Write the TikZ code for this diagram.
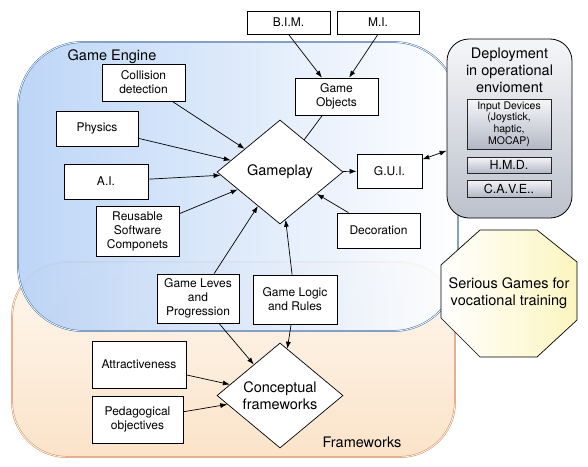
\documentclass[tikz,border=0pt]{standalone}
\usepackage{fontspec}
\setmainfont{TeX Gyre Heros}
\usetikzlibrary{shapes.geometric,arrows.meta}
\definecolor{engblue}{HTML}{B6D1F6}
\definecolor{engline}{HTML}{3E6FA6}
\definecolor{frmpale}{HTML}{FEF8F0}
\definecolor{frmorange}{HTML}{FBE3C9}
\definecolor{frmline}{HTML}{D48B5C}
\definecolor{deptop}{HTML}{F5F6F8}
\definecolor{depbottom}{HTML}{BCC1CC}
\definecolor{devbottom}{HTML}{B3B8C6}
\definecolor{octyellow}{HTML}{FCF5C0}

\begin{document}
\begin{tikzpicture}[x=1pt, y=-1pt,
  box/.style={rectangle, draw=black, fill=white, line width=0.7pt, inner sep=1pt, align=center, font=\fontsize{12}{14}\selectfont},
  flow/.style={diamond, draw=black, fill=white, line width=0.7pt, inner sep=0pt, minimum width=126pt, minimum height=104pt, align=center, font=\fontsize{14.5}{17}\selectfont},
  biglabel/.style={inner sep=0pt, align=center, font=\fontsize{14.5}{17}\selectfont},
  devbox/.style={rectangle, draw=black!85, line width=0.7pt, top color=deptop, bottom color=devbottom, inner sep=1pt, minimum width=84pt, align=center},
  arrow/.style={-{Latex[length=7pt,width=5pt]}, line width=0.7pt},
  link/.style={line width=0.7pt}
]
\useasboundingbox (0,0) rectangle (588,466);

% the two regions
\path[draw=frmline, double=frmpale, double distance=0.8pt, line width=0.5pt, top color=frmpale, bottom color=frmorange, rounded corners=55pt] (12,262) rectangle (455,457);
\path[draw=engline, double=white, double distance=0.8pt, line width=0.5pt, left color=engblue, middle color=engblue!30, right color=white, fill opacity=0.9, rounded corners=65pt] (18,42) rectangle (458,331);
\node[biglabel] (englabel) at (112,57) {Game Engine};
\node[biglabel] (frmlabel) at (362,442) {Frameworks};

% deployment
\node[rectangle, draw=black, line width=0.8pt, rounded corners=22pt, top color=deptop, bottom color=depbottom, minimum width=125pt, minimum height=179pt] (deploy) at (509.5,128.5) {};
\node[biglabel] (deptitle) at (509.5,70.5) {Deployment\\in operational\\envioment};
\node[devbox, minimum height=50pt, font=\fontsize{10.5}{11.7}\selectfont] (input) at (509,124) {Input Devices\\(Joystick,\\haptic,\\MOCAP)};
\node[devbox, minimum height=16pt, font=\fontsize{12.5}{14}\selectfont] (hmd) at (509,165) {H.M.D.};
\node[devbox, minimum height=17pt, font=\fontsize{12.5}{14}\selectfont] (cave) at (509,188.5) {C.A.V.E..};

% serious games
\path[draw=black, line width=0.7pt, left color=white, right color=octyellow]
  (480,230) -- (537,230) -- (577,262) -- (577,320) -- (537,357) -- (480,357) -- (441,318) -- (441,265) -- cycle;
\node[biglabel] (serious) at (509,293.5) {Serious Games for\\vocational training};

% game engine
\node[box, minimum width=83pt, minimum height=23pt] (bim) at (288.5,22.5) {B.I.M.};
\node[box, minimum width=82pt, minimum height=23pt] (mi) at (378,22.5) {M.I.};
\node[box, minimum width=83pt, minimum height=37pt] (gobj) at (336.5,96.5) {Game\\Objects};
\node[box, minimum width=83pt, minimum height=37pt] (coll) at (143.5,82.5) {Collision\\detection};
\node[box, minimum width=82pt, minimum height=35pt] (phys) at (97,128.5) {Physics};
\node[box, minimum width=84pt, minimum height=35pt] (ai) at (106,181.5) {A.I.};
\node[box, minimum width=83pt, minimum height=50pt] (reuse) at (137.5,231) {Reusable\\Software\\Componets};
\node[flow] (gameplay) at (280,172) {Gameplay};
\node[box, minimum width=65pt, minimum height=34pt] (gui) at (389.5,171) {G.U.I.};
\node[box, minimum width=83pt, minimum height=35pt] (deco) at (378.5,230.5) {Decoration};
\node[box, minimum width=82pt, minimum height=49pt] (leves) at (198,298.5) {Game Leves\\and\\Progression};
\node[box, minimum width=84pt, minimum height=49pt] (logic) at (295,299.5) {Game Logic\\and Rules};

% frameworks
\node[flow, minimum height=105pt] (concept) at (280,395.5) {Conceptual\\frameworks};
\node[box, minimum width=94pt, minimum height=47pt] (attr) at (139,364.5) {Attractiveness};
\node[box, minimum width=91pt, minimum height=47pt] (peda) at (137.5,419.5) {Pedagogical\\objectives};

\draw[arrow] (bim.south) -- (gobj);
\draw[arrow] (mi.south) -- (gobj);
\draw[link] (gobj) -- (gameplay);
\draw[arrow] (coll) -- (gameplay);
\draw[arrow] (phys) -- (gameplay);
\draw[arrow] (ai) -- (gameplay);
\draw[arrow] (reuse) -- (gameplay);
\draw[arrow] (gameplay) -- (gui);
\draw[{Latex[length=7pt,width=5pt]}-{Latex[length=7pt,width=5pt]}, line width=0.7pt] (gui) -- (deploy);
\draw[arrow] (deco) -- (gameplay);
\draw[arrow] (leves) -- (gameplay);
\draw[arrow] (logic) -- (gameplay);
\draw[arrow] (leves) -- (concept);
\draw[arrow] (logic) -- (concept);
\draw[arrow] (attr) -- (concept);
\draw[arrow] (peda) -- (concept);
\end{tikzpicture}
\end{document}
